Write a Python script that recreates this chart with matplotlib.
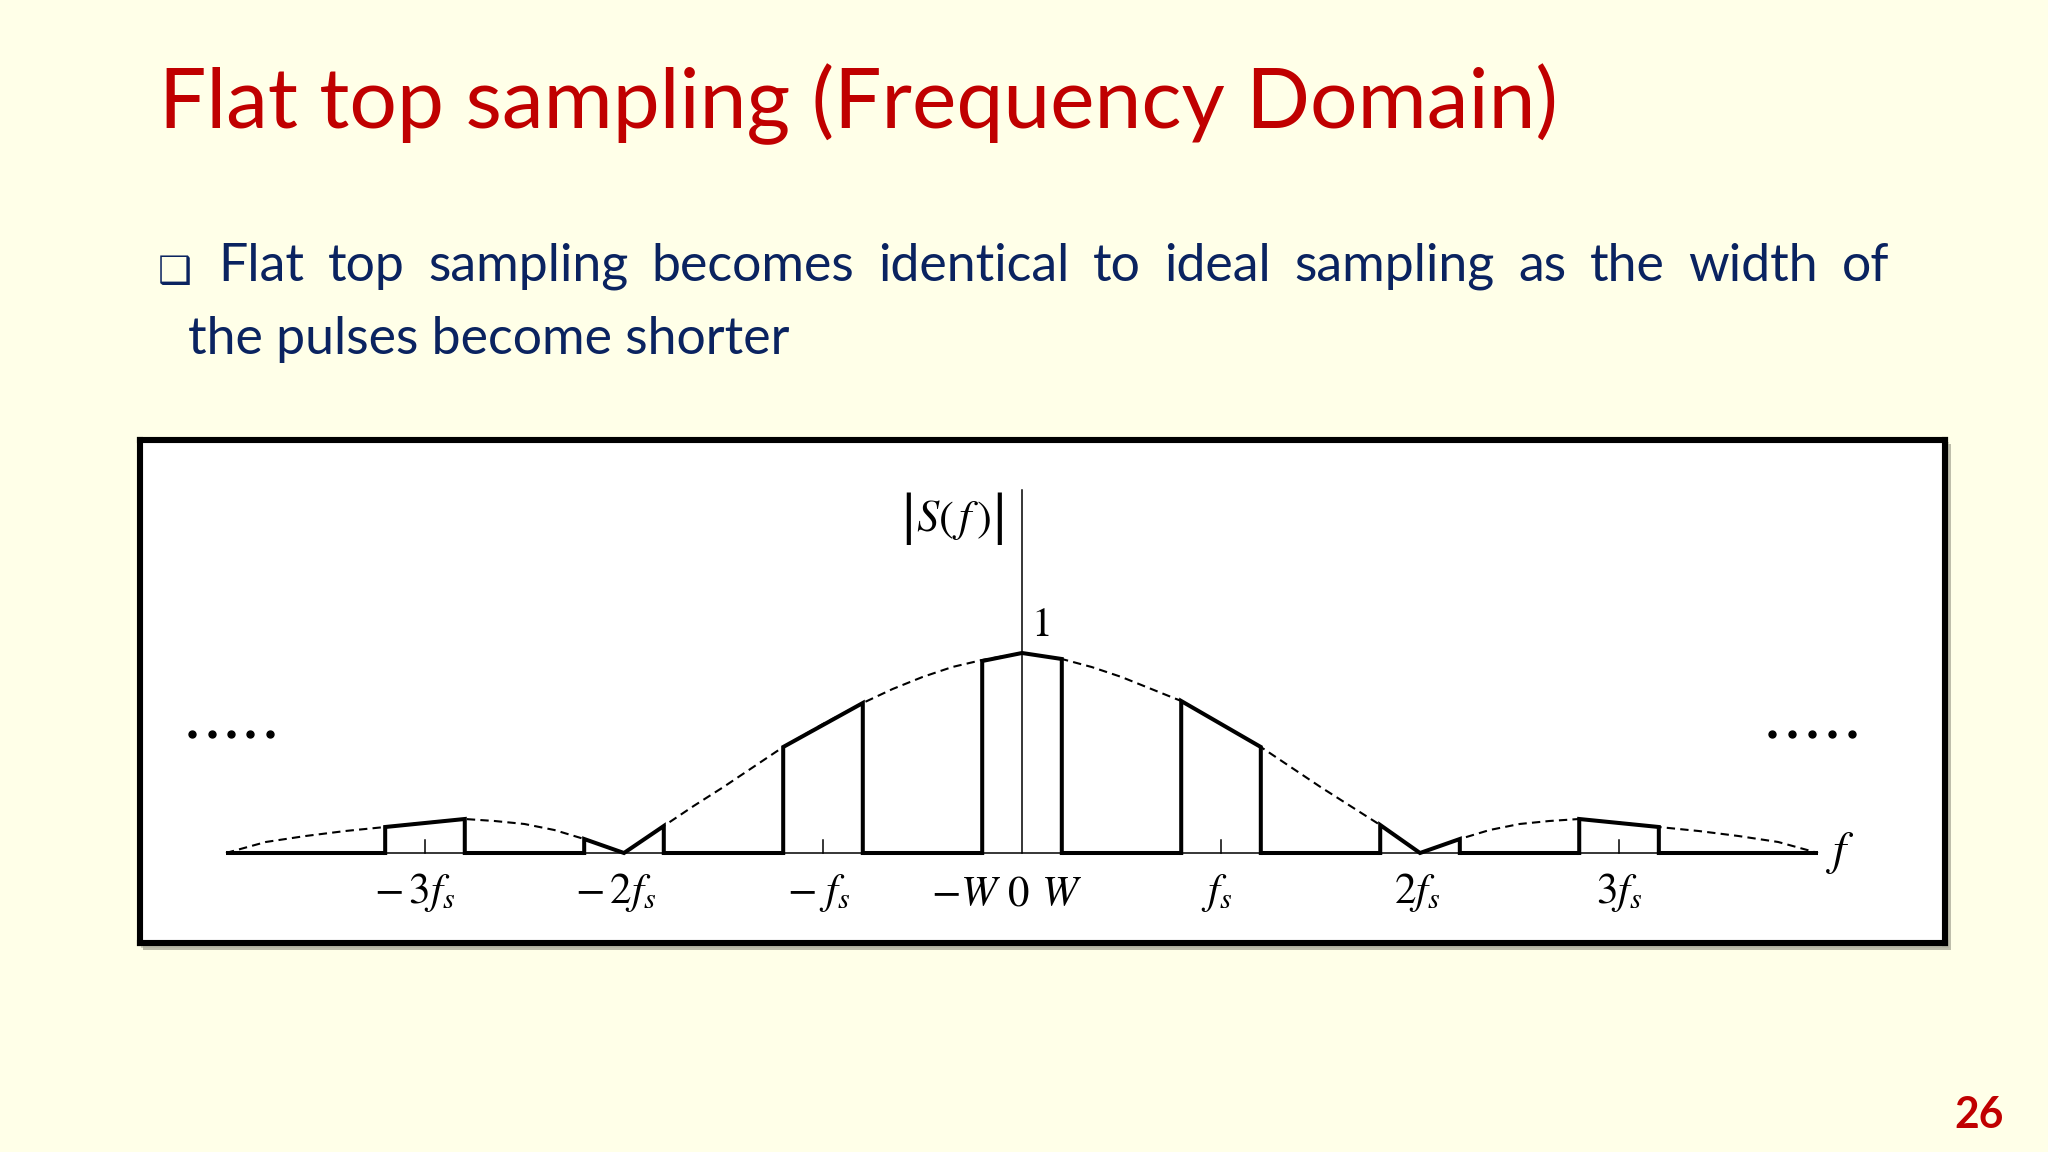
import numpy as np
import matplotlib
matplotlib.use('Agg')
import matplotlib.pyplot as plt
from matplotlib.patches import Rectangle

# ---------------- data (frequency in units of fs) ----------------
harmonics = [-3, -2, -1, 0, 1, 2, 3]
half_width = 0.2                     # W / fs
pulse_left = [0.13, 0.07, 0.53, 0.96, 0.76, 0.14, 0.17]
pulse_mid = [0.15, 0.0, 0.64, 1.0, 0.645, 0.0, 0.15]
pulse_right = [0.17, 0.135, 0.75, 0.97, 0.53, 0.07, 0.13]

env_f = [-4.0, -3.8, -3.6, -3.4, -3.2, -3.0, -2.8, -2.65, -2.5, -2.35, -2.2, -2.0,
         -1.8, -1.65, -1.5, -1.35, -1.2, -1.0, -0.8, -0.65, -0.5, -0.35, -0.2, 0.0,
         0.2, 0.35, 0.5, 0.65, 0.8, 1.0, 1.2, 1.35, 1.5, 1.65, 1.8,
         2.0, 2.2, 2.35, 2.5, 2.65, 2.8, 3.0, 3.2, 3.4, 3.6, 3.8, 4.0]
env_mag = [0.0, 0.055, 0.085, 0.11, 0.13, 0.152, 0.17, 0.16, 0.145, 0.115, 0.07, 0.0,
           0.135, 0.235, 0.33, 0.43, 0.53, 0.645, 0.75, 0.82, 0.88, 0.93, 0.965, 1.0,
           0.97, 0.93, 0.88, 0.82, 0.76, 0.645, 0.53, 0.43, 0.33, 0.235, 0.14,
           0.0, 0.07, 0.115, 0.145, 0.16, 0.17, 0.152, 0.13, 0.11, 0.085, 0.055, 0.0]

axis_range = [-4.0, 4.0]
small_ticks = [-3, -1, 1, 3]
label_pos = [-3.05, -2.04, -1.02, -0.28, -0.02, 0.2, 0.98, 1.985, 3.0]
label_txt = [r'$-\,3f_s$', r'$-\,2f_s$', r'$-\;f_s$', r'$-W$', r'$0$', r'$W$',
             r'$f_s$', r'$2f_s$', r'$3f_s$']

title = "Flat top sampling (Frequency Domain)"
line1_words = "Flat top sampling becomes identical to ideal sampling as the width of".split()
line2 = "the pulses become shorter"
page_no = "26"

# ---------------- style ----------------
BG = '#FFFFE8'
RED = '#C00000'
NAVY = '#0A2360'
WPX, HPX = 2048, 1152
plt.rcParams['mathtext.fontset'] = 'stix'

fig = plt.figure(figsize=(20.48, 11.52), dpi=100, facecolor=BG)
renderer = fig.canvas.get_renderer()


def fx(px):
    return px / WPX


def fy(py):
    return 1 - py / HPX


def ptext(x, y, s, target_w=None, size=20, **kw):
    t = fig.text(fx(x), fy(y), s, fontsize=size, va='baseline', ha='left', **kw)
    if target_w is not None:
        w = t.get_window_extent(renderer).width
        t.set_fontsize(size * target_w / w)
    return t


# title
ptext(159, 128, title, target_w=1402, family='Lato', color=RED)

# bullet text
t2 = ptext(188, 354, line2, target_w=605, family='Lato', color=NAVY)
body_size = t2.get_fontsize()
ptext(158, 283, '\u2751', target_w=34, family=['DejaVu Sans'], color=NAVY)
widths = []
for wd in line1_words:
    tt = fig.text(0, 0, wd, fontsize=body_size, family='Lato')
    widths.append(tt.get_window_extent(renderer).width)
    tt.remove()
x0, x1 = 218, 1889
gap = (x1 - x0 - sum(widths)) / (len(line1_words) - 1)
xc = x0
for wd, w in zip(line1_words, widths):
    ptext(xc, 281, wd, size=body_size, family='Lato', color=NAVY)
    xc += w + gap

# page number
ptext(1954, 1128, page_no, target_w=49, family='Lato', weight='bold', color=RED)

# shadow of the frame
fig.patches.append(Rectangle((fx(143), fy(950)), fx(1808), 506 / HPX,
                             transform=fig.transFigure, facecolor='#8a8a7a',
                             edgecolor='none', alpha=0.55, zorder=0))
fig.patches.append(Rectangle((fx(141), fy(948)), fx(1808), 506 / HPX,
                             transform=fig.transFigure, facecolor='#b0b0a0',
                             edgecolor='none', alpha=0.5, zorder=0))

# chart frame
ax = fig.add_axes([fx(140), fy(943), fx(1805), 503 / HPX], zorder=2)
ax.set_facecolor('white')
for sp in ax.spines.values():
    sp.set_linewidth(4.4)
    sp.set_color('black')
ax.set_xticks([])
ax.set_yticks([])
ax.set_xlim(-4.432, 4.638)
ax.set_ylim(-0.45, 2.065)

THICK = 2.9
THIN = 1.1

# thin frequency axis and vertical axis
ax.plot(axis_range, [0, 0], color='black', lw=THIN, solid_capstyle='butt')
ax.plot([0, 0], [0, 1.815], color='black', lw=THIN)

# envelope
ax.plot(env_f, env_mag, color='black', lw=1.5, ls=(0, (4.0, 2.5)))

# pulses
for k, l, m, r in zip(harmonics, pulse_left, pulse_mid, pulse_right):
    xs = [k - half_width, k - half_width, k, k + half_width, k + half_width]
    ys = [0, l, m, r, 0]
    ax.plot(xs, ys, color='black', lw=THICK, solid_joinstyle='miter')

# thick zero segments between pulses
edges = [axis_range[0]]
for k in harmonics:
    edges += [k - half_width, k + half_width]
edges.append(axis_range[1])
for a, b in zip(edges[0::2], edges[1::2]):
    ax.plot([a, b], [0, 0], color='black', lw=THICK, solid_capstyle='butt')

# small ticks
for k in small_ticks:
    ax.plot([k, k], [0, 0.065], color='black', lw=THIN)

# labels
for xp, s in zip(label_pos, label_txt):
    ax.text(xp, -0.2, s, ha='center', va='center', fontsize=31)
ax.text(-0.345, 1.665, r'$S(\,f\,)$', ha='center', va='center', fontsize=32)
ax.text(-0.575, 1.67, '|', ha='center', va='center', fontsize=38,
        family='DejaVu Serif', fontweight='light')
ax.text(-0.115, 1.67, '|', ha='center', va='center', fontsize=38,
        family='DejaVu Serif', fontweight='light')
ax.text(0.09, 1.145, r'$1$', ha='center', va='center', fontsize=30)
ax.text(4.115, 0.0, r'$f$', ha='center', va='center', fontsize=34)

# continuation dots
ax.plot(np.linspace(-4.17, -3.78, 5), [0.595] * 5, 'o', color='black', ms=5)
ax.plot(np.linspace(3.77, 4.17, 5), [0.595] * 5, 'o', color='black', ms=5)

fig.savefig('out.png', dpi=100, facecolor=BG)
